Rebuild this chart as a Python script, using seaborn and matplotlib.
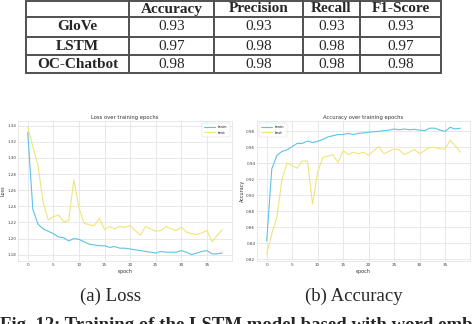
import matplotlib
matplotlib.use("Agg")
import matplotlib.pyplot as plt
import seaborn as sns
import pandas as pd
import numpy as np

# ---------------- data ----------------
table_cols = ["Accuracy", "Precision", "Recall", "F1-Score"]
table_rows = ["GloVe", "LSTM", "OC-Chatbot"]
glove_scores = ["0.93", "0.93", "0.93", "0.93"]
lstm_scores = ["0.97", "0.98", "0.98", "0.97"]
occhat_scores = ["0.98", "0.98", "0.98", "0.98"]

epochs = list(range(39))
loss_train = [1.332, 1.236, 1.218, 1.212, 1.209, 1.206, 1.202, 1.201, 1.197, 1.200,
              1.199, 1.196, 1.193, 1.192, 1.191, 1.191, 1.189, 1.190, 1.188, 1.188,
              1.187, 1.186, 1.185, 1.184, 1.183, 1.182, 1.184, 1.183, 1.183, 1.183,
              1.185, 1.183, 1.180, 1.182, 1.184, 1.185, 1.181, 1.181, 1.182]
loss_test = [1.338, 1.314, 1.291, 1.245, 1.223, 1.227, 1.229, 1.221, 1.222, 1.273,
             1.238, 1.219, 1.217, 1.216, 1.225, 1.211, 1.215, 1.212, 1.215, 1.214,
             1.216, 1.210, 1.204, 1.215, 1.212, 1.209, 1.210, 1.215, 1.212, 1.210,
             1.214, 1.208, 1.206, 1.205, 1.207, 1.210, 1.196, 1.204, 1.211]
acc_train = [0.843, 0.933, 0.950, 0.955, 0.957, 0.961, 0.965, 0.965, 0.968, 0.966,
             0.9675, 0.970, 0.973, 0.9745, 0.976, 0.976, 0.9775, 0.976, 0.9775, 0.978,
             0.979, 0.9795, 0.980, 0.981, 0.9815, 0.983, 0.982, 0.983, 0.982, 0.9825,
             0.9815, 0.981, 0.984, 0.984, 0.9815, 0.980, 0.985, 0.983, 0.984]
acc_test = [0.826, 0.852, 0.8725, 0.920, 0.941, 0.937, 0.934, 0.943, 0.943, 0.889,
            0.929, 0.9475, 0.949, 0.951, 0.941, 0.956, 0.951, 0.954, 0.952, 0.954,
            0.950, 0.956, 0.961, 0.952, 0.955, 0.958, 0.957, 0.951, 0.954, 0.9575,
            0.952, 0.956, 0.960, 0.960, 0.958, 0.958, 0.969, 0.962, 0.954]

# ---------------- style ----------------
sns.set_style("whitegrid", {"grid.color": "#e4e4e4", "axes.edgecolor": "#e0e0e0"})
plt.rcParams["font.family"] = ["DejaVu Sans"]

W, H = 474, 324
fig = plt.figure(figsize=(W / 100, H / 100), dpi=100)

def px_axes(l, t, r, b):
    return fig.add_axes([l / W, 1 - b / H, (r - l) / W, (b - t) / H])

# ---------------- table ----------------
serif = "Liberation Serif"
col_edges = [26, 129, 214, 303, 360, 441]
row_edges = [1, 17, 37, 55, 73]
line_kw = dict(color="#505050", lw=1.4, transform=None)
for y in row_edges:
    fig.add_artist(plt.Line2D([col_edges[0], col_edges[-1]], [H - y, H - y], **line_kw))
for x in col_edges:
    fig.add_artist(plt.Line2D([x, x], [H - row_edges[0], H - row_edges[-1]], **line_kw))

def cell_center(ci, ri):
    cx = (col_edges[ci] + col_edges[ci + 1]) / 2
    cy = (row_edges[ri] + row_edges[ri + 1]) / 2
    return cx / W, 1 - cy / H

for ci, name in enumerate(table_cols):
    x, y = cell_center(ci + 1, 0)
    fig.text(x, y, name, family=serif, weight="bold", fontsize=11, ha="center", va="center")
for ri, (name, vals) in enumerate(zip(table_rows, [glove_scores, lstm_scores, occhat_scores])):
    x, y = cell_center(0, ri + 1)
    fig.text(x, y, name, family=serif, weight="bold", fontsize=11, ha="center", va="center")
    for ci, v in enumerate(vals):
        x, y = cell_center(ci + 1, ri + 1)
        fig.text(x, y, v, family=serif, fontsize=11, ha="center", va="center")

# ---------------- charts ----------------
c_train = "#5cc3e6"
c_test = "#f2e47a"

df_loss = pd.DataFrame({"epoch": epochs * 2,
                        "value": loss_train + loss_test,
                        "set": ["train"] * len(epochs) + ["test"] * len(epochs)})
df_acc = pd.DataFrame({"epoch": epochs * 2,
                       "value": acc_train + acc_test,
                       "set": ["train"] * len(epochs) + ["test"] * len(epochs)})

ax1 = px_axes(18, 121, 232, 261)
ax2 = px_axes(257, 121, 470, 261)

for ax, df, title, ylab, yt, loc in [
    (ax1, df_loss, "Loss over training epochs", "Loss",
     [1.18, 1.20, 1.22, 1.24, 1.26, 1.28, 1.30, 1.32, 1.34], "upper right"),
    (ax2, df_acc, "Accuracy over training epochs", "Accuracy",
     [0.82, 0.84, 0.86, 0.88, 0.90, 0.92, 0.94, 0.96, 0.98], "upper left"),
]:
    sns.lineplot(data=df, x="epoch", y="value", hue="set", ax=ax,
                 palette={"train": c_train, "test": c_test}, linewidth=0.8)
    ax.set_title(title, fontsize=3.8, pad=1.5, color="#333333")
    ax.set_xlabel("epoch", fontsize=3.5, labelpad=1.5, color="#333333")
    ax.set_ylabel(ylab, fontsize=3.5, labelpad=1, color="#333333")
    ax.set_xticks([0, 5, 10, 15, 20, 25, 30, 35])
    ax.set_yticks(yt)
    ax.set_yticklabels([f"{v:.2f}" for v in yt])
    ax.tick_params(labelsize=3, pad=1.2, colors="#444444", length=0)
    for s in ax.spines.values():
        s.set_linewidth(0.5)
    ax.grid(True, lw=0.6)
    leg = ax.legend(loc=loc, fontsize=3, frameon=True, handlelength=2.5,
                    borderpad=0.5, labelspacing=0.4)
    leg.get_frame().set_linewidth(0.3)

# ---------------- captions ----------------
fig.text(110 / W, 1 - 296 / H, "(a) Loss", family=serif, fontsize=13.5, ha="center", va="center")
fig.text(354 / W, 1 - 296 / H, "(b) Accuracy", family=serif, fontsize=13.5, ha="center", va="center")
fig.text(0 / W, 1 - 317 / H, "Fig. 12: Training of the LSTM model based with word emb",
         family=serif, weight="bold", fontsize=13.5, ha="left", va="top")

fig.savefig("out.png", dpi=100)
